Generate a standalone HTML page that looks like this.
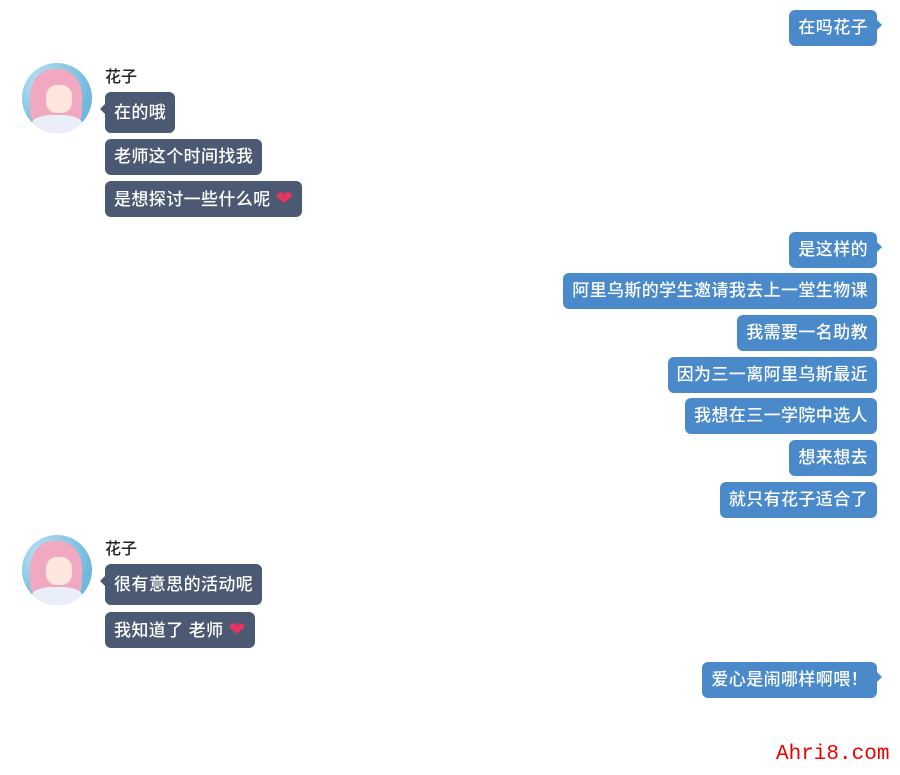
<!DOCTYPE html>
<html><head><meta charset="utf-8"><style>
body{margin:0;width:900px;height:775px;background:#fff;position:relative;overflow:hidden;font-family:"Liberation Sans","Noto Sans CJK SC",sans-serif}
.b{position:absolute;height:36px;line-height:36px;color:#fff;font-size:17px;font-weight:500;letter-spacing:0.4px;border-radius:6px;padding:0 9px;white-space:nowrap;box-sizing:border-box}
.l{background:#4b5a72;left:105px}
.r{background:#4a8acb;right:23px}
.r.t::after{content:"";position:absolute;right:-5px;top:10px;border:5px solid transparent;border-left-color:#4a8acb;border-right:0}
.l.t::after{content:"";position:absolute;left:-5px;top:12px;border:5px solid transparent;border-right-color:#4b5a72;border-left:0}
.name{position:absolute;left:105px;font-size:16px;color:#222;font-weight:500}
.av{position:absolute;left:22px;width:70px;height:70px;border-radius:50%;overflow:hidden;background:radial-gradient(circle at 30% 30%,#bfe3f3,#6fb7dc 70%)}
.av .h{position:absolute;left:8px;top:6px;width:52px;height:60px;border-radius:45% 45% 30% 30%;background:#f0a9c0}
.av .f{position:absolute;left:24px;top:22px;width:26px;height:28px;border-radius:40%;background:#fde6dc}
.av .s{position:absolute;left:10px;top:52px;width:50px;height:20px;background:#e9eef8;border-radius:40% 40% 0 0}
.hr{color:#e8335f;font-size:20px}
.wm{position:absolute;left:776px;top:743px;font-family:"Liberation Mono","Liberation Serif",monospace;color:#e00;font-size:21px}
</style></head><body>
<div class="b r t" style="top:10px">在吗花子</div>

<div class="av" style="top:63px"><div class="h"></div><div class="f"></div><div class="s"></div></div>
<div class="name" style="top:63px">花子</div>
<div class="b l t" style="top:92px;height:41px;line-height:41px">在的哦</div>
<div class="b l" style="top:139px">老师这个时间找我</div>
<div class="b l" style="top:181px">是想探讨一些什么呢 <span class="hr">❤</span></div>

<div class="b r t" style="top:232px">是这样的</div>
<div class="b r" style="top:273px">阿里乌斯的学生邀请我去上一堂生物课</div>
<div class="b r" style="top:315px">我需要一名助教</div>
<div class="b r" style="top:357px">因为三一离阿里乌斯最近</div>
<div class="b r" style="top:398px">我想在三一学院中选人</div>
<div class="b r" style="top:440px">想来想去</div>
<div class="b r" style="top:482px">就只有花子适合了</div>

<div class="av" style="top:535px"><div class="h"></div><div class="f"></div><div class="s"></div></div>
<div class="name" style="top:535px">花子</div>
<div class="b l t" style="top:564px;height:41px;line-height:41px">很有意思的活动呢</div>
<div class="b l" style="top:612px">我知道了 老师 <span class="hr">❤</span></div>

<div class="b r t" style="top:662px">爱心是闹哪样啊喂！</div>
<div class="wm">Ahri8.com</div>
</body></html>
